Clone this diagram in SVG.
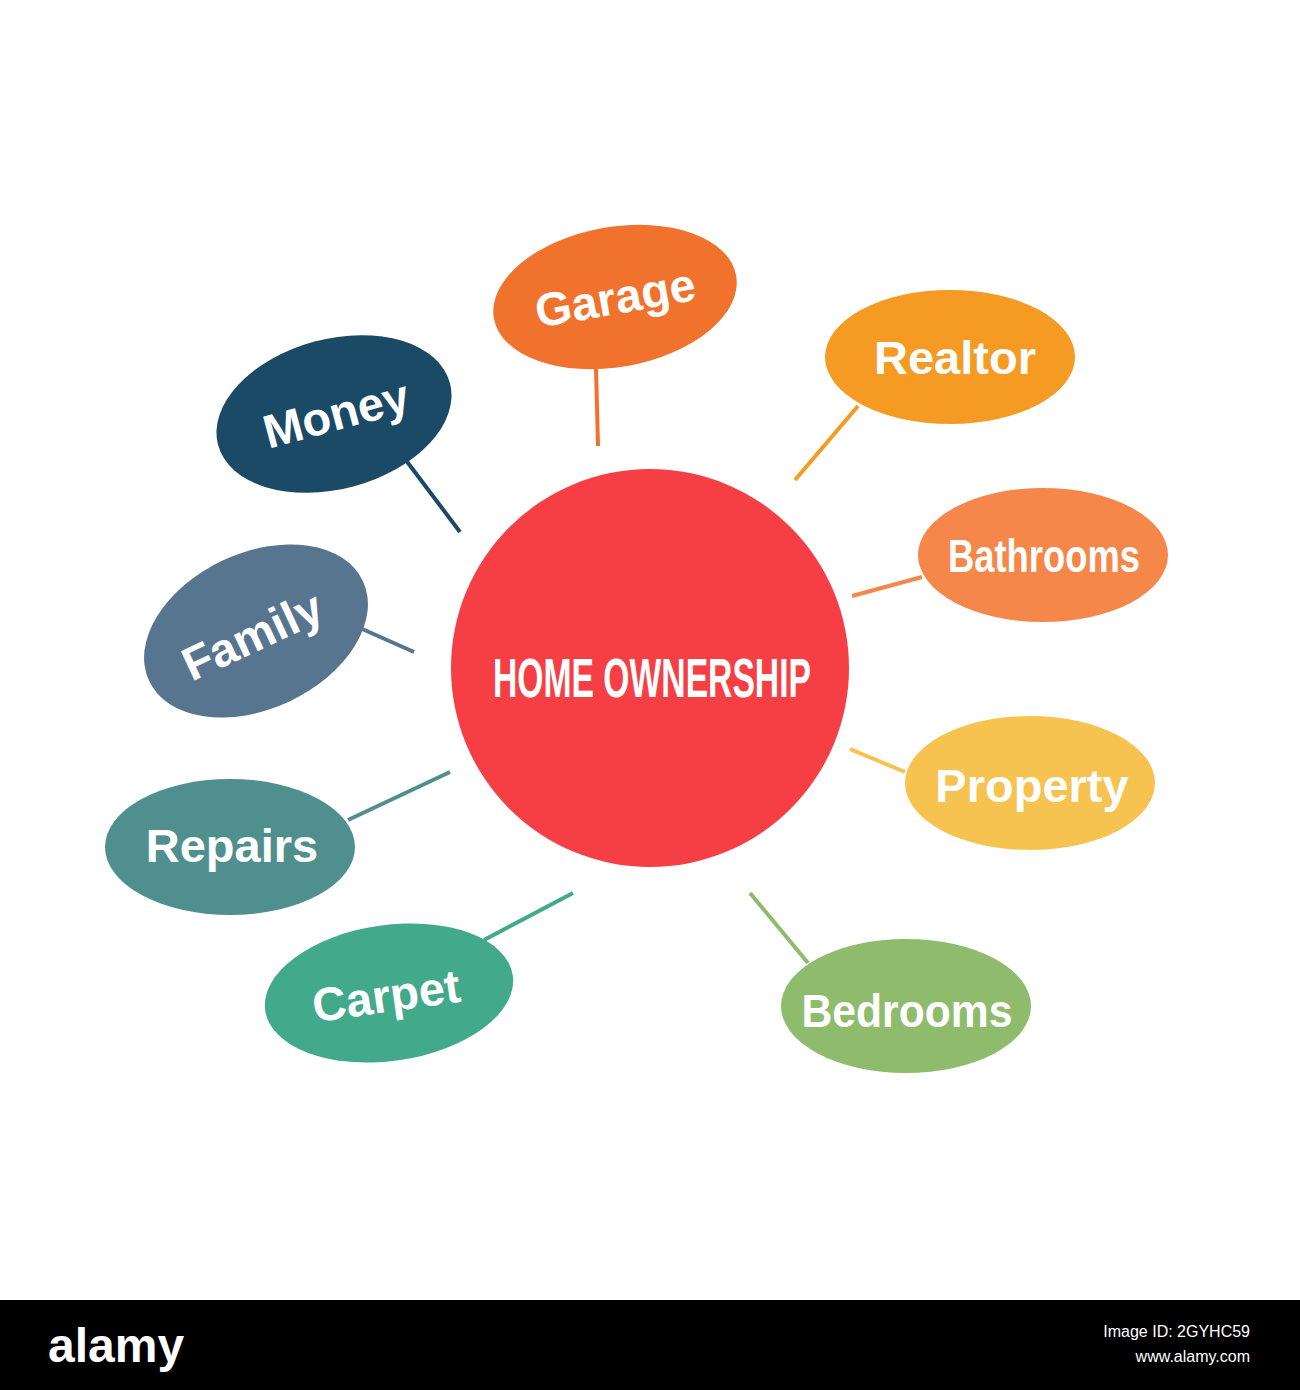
<svg xmlns="http://www.w3.org/2000/svg" width="1300" height="1390" viewBox="0 0 1300 1390">
<style>
.t{font-family:"Liberation Sans",Arial,sans-serif;font-weight:bold;fill:#fff;text-anchor:middle;font-size:47px}
.c{fill:none;stroke-width:4}
</style>
<rect width="1300" height="1390" fill="#fff"/>
<g id="connectors">
<line class="c" x1="596" y1="368" x2="598" y2="446" stroke="#f0722c"/>
<line class="c" x1="858" y1="406" x2="795" y2="480" stroke="#f59a22"/>
<line class="c" x1="922" y1="577" x2="852" y2="596" stroke="#f5874a"/>
<line class="c" x1="905" y1="772" x2="850" y2="749" stroke="#f7c350"/>
<line class="c" x1="808" y1="963" x2="750" y2="893" stroke="#8fbc6c"/>
<line class="c" x1="484" y1="940" x2="573" y2="893" stroke="#42a98a"/>
<line class="c" x1="348" y1="820" x2="450" y2="772" stroke="#4f8f8d"/>
<line class="c" x1="360" y1="628" x2="414" y2="652" stroke="#587590" stroke-width="3"/>
<line class="c" x1="402" y1="455" x2="460" y2="532" stroke="#1a4a66" stroke-width="7"/>
</g>
<g id="center"><circle cx="650" cy="668" r="199" fill="#f53f45"/>
<text x="652" y="697" font-family="Liberation Sans,Arial,sans-serif" font-weight="bold" font-size="56" fill="#fff" text-anchor="middle" textLength="318" lengthAdjust="spacingAndGlyphs">HOME OWNERSHIP</text></g>
<g id="garage"><ellipse cx="615" cy="297" rx="123" ry="70" transform="rotate(-10 615 297)" fill="#f0722c"/><text class="t" x="615" y="314" transform="rotate(-10 615 297)">Garage</text></g>
<g id="realtor"><ellipse cx="950" cy="357" rx="125" ry="67" fill="#f59a22"/><text class="t" x="955" y="374">Realtor</text></g>
<g id="bathrooms"><ellipse cx="1043" cy="555" rx="125" ry="67" fill="#f5874a"/><text class="t" x="1044" y="572" font-size="42" textLength="192" lengthAdjust="spacingAndGlyphs">Bathrooms</text></g>
<g id="property"><ellipse cx="1030" cy="783" rx="125" ry="67" fill="#f7c350"/><text class="t" x="1032" y="802">Property</text></g>
<g id="bedrooms"><ellipse cx="906" cy="1006" rx="125" ry="67" fill="#8fbc6c"/><text class="t" x="907" y="1027" font-size="43" textLength="211" lengthAdjust="spacingAndGlyphs">Bedrooms</text></g>
<g id="carpet"><ellipse cx="389" cy="993" rx="125" ry="68" transform="rotate(-8 389 993)" fill="#42a98a"/><text class="t" x="386" y="1012" transform="rotate(-8 386 995)">Carpet</text></g>
<g id="repairs"><ellipse cx="230" cy="847" rx="125" ry="68" fill="#4f8f8d"/><text class="t" x="232" y="862">Repairs</text></g>
<g id="family"><ellipse cx="256" cy="631" rx="118" ry="78" transform="rotate(-25 256 631)" fill="#587590"/><text class="t" x="252" y="652" transform="rotate(-25 252 635)">Family</text></g>
<g id="money"><ellipse cx="334" cy="414" rx="120" ry="75" transform="rotate(-15 334 414)" fill="#1a4a66"/><text class="t" x="336" y="430" transform="rotate(-15 336 413)">Money</text></g>
<g id="footer"><rect x="0" y="1300" width="1300" height="90" fill="#000"/>
<text x="48" y="1362" font-family="Liberation Sans,Arial,sans-serif" font-weight="bold" font-size="48" fill="#fff">alamy</text>
<text x="1250" y="1337" font-family="Liberation Sans,Arial,sans-serif" font-size="16" fill="#fff" text-anchor="end">Image ID: 2GYHC59</text>
<text x="1250" y="1362" font-family="Liberation Sans,Arial,sans-serif" font-size="16" fill="#fff" text-anchor="end">www.alamy.com</text></g>
</svg>
